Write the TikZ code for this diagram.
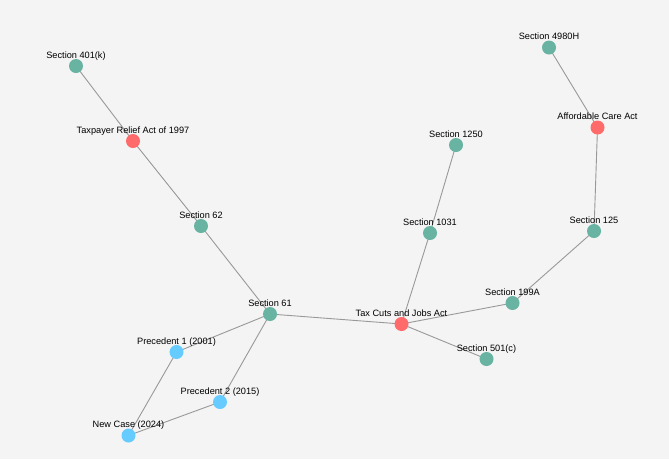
\documentclass[tikz,border=0pt]{standalone}
\usepackage{fontspec}
\setmainfont{Liberation Sans}
\definecolor{bg}{HTML}{F4F4F4}
\definecolor{teal}{HTML}{69B3A2}
\definecolor{redn}{HTML}{FF6B6B}
\definecolor{bluen}{HTML}{66CCFF}
\definecolor{edgec}{HTML}{999999}
\tikzset{
  dot/.style={circle, minimum size=14pt, inner sep=0pt},
  law/.style={dot, fill=teal},
  act/.style={dot, fill=redn},
  case/.style={dot, fill=bluen},
  link/.style={draw=edgec, line width=0.9pt},
  lbl/.style={anchor=base, inner sep=0pt, font=\fontsize{9.2}{10}\selectfont, text=black}
}
\begin{document}
\begin{tikzpicture}[x=1pt,y=-1pt]
\fill[bg] (0,0) rectangle (669,459);
\useasboundingbox (0,0) rectangle (669,459);
% node coordinates
\coordinate (k401) at (76,66);
\coordinate (tra) at (133,141);
\coordinate (s62) at (201,226);
\coordinate (s61) at (270,314);
\coordinate (p1) at (176.5,352);
\coordinate (p2) at (220,402);
\coordinate (nc) at (128.5,435.5);
\coordinate (tcja) at (401.5,324);
\coordinate (s199) at (512.5,303);
\coordinate (s501) at (486.5,359);
\coordinate (s4980) at (549,47.5);
\coordinate (aca) at (597.5,127.5);
\coordinate (s125) at (594,231);
\coordinate (s1031) at (430,233);
\coordinate (s1250) at (456,145);
% links
\draw[link] (k401) -- (tra);
\draw[link] (tra) -- (s62);
\draw[link] (s62) -- (s61);
\draw[link] (s61) -- (p1);
\draw[link] (s61) -- (p2);
\draw[link] (p1) -- (nc);
\draw[link] (p2) -- (nc);
\draw[link] (s61) -- (tcja);
\draw[link] (tcja) -- (s1031);
\draw[link] (s1031) -- (s1250);
\draw[link] (tcja) -- (s199);
\draw[link] (tcja) -- (s501);
\draw[link] (s199) -- (s125);
\draw[link] (s125) -- (aca);
\draw[link] (aca) -- (s4980);
% circles
\node[law] (nk401) at (k401) {};
\node[act] (ntra) at (tra) {};
\node[law] (ns62) at (s62) {};
\node[law] (ns61) at (s61) {};
\node[case] (np1) at (p1) {};
\node[case] (np2) at (p2) {};
\node[case] (nnc) at (nc) {};
\node[act] (ntcja) at (tcja) {};
\node[law] (ns199) at (s199) {};
\node[law] (ns501) at (s501) {};
\node[law] (ns4980) at (s4980) {};
\node[act] (naca) at (aca) {};
\node[law] (ns125) at (s125) {};
\node[law] (ns1031) at (s1031) {};
\node[law] (ns1250) at (s1250) {};
% labels
\node[lbl] (lk401) at ([yshift=8pt]k401) {Section 401(k)};
\node[lbl] (ltra) at ([yshift=8pt]tra) {Taxpayer Relief Act of 1997};
\node[lbl] (ls62) at ([yshift=8pt]s62) {Section 62};
\node[lbl] (ls61) at ([yshift=8pt]s61) {Section 61};
\node[lbl] (lp1) at ([yshift=8pt]p1) {Precedent 1 (2001)};
\node[lbl] (lp2) at ([yshift=8pt]p2) {Precedent 2 (2015)};
\node[lbl] (lnc) at ([yshift=8pt]nc) {New Case (2024)};
\node[lbl] (ltcja) at ([yshift=8pt]tcja) {Tax Cuts and Jobs Act};
\node[lbl] (ls199) at ([yshift=8pt]s199) {Section 199A};
\node[lbl] (ls501) at ([yshift=8pt]s501) {Section 501(c)};
\node[lbl] (ls4980) at ([yshift=8pt]s4980) {Section 4980H};
\node[lbl] (laca) at ([yshift=8pt]aca) {Affordable Care Act};
\node[lbl] (ls125) at ([yshift=8pt]s125) {Section 125};
\node[lbl] (ls1031) at ([yshift=8pt]s1031) {Section 1031};
\node[lbl] (ls1250) at ([yshift=8pt]s1250) {Section 1250};
\end{tikzpicture}
\end{document}
